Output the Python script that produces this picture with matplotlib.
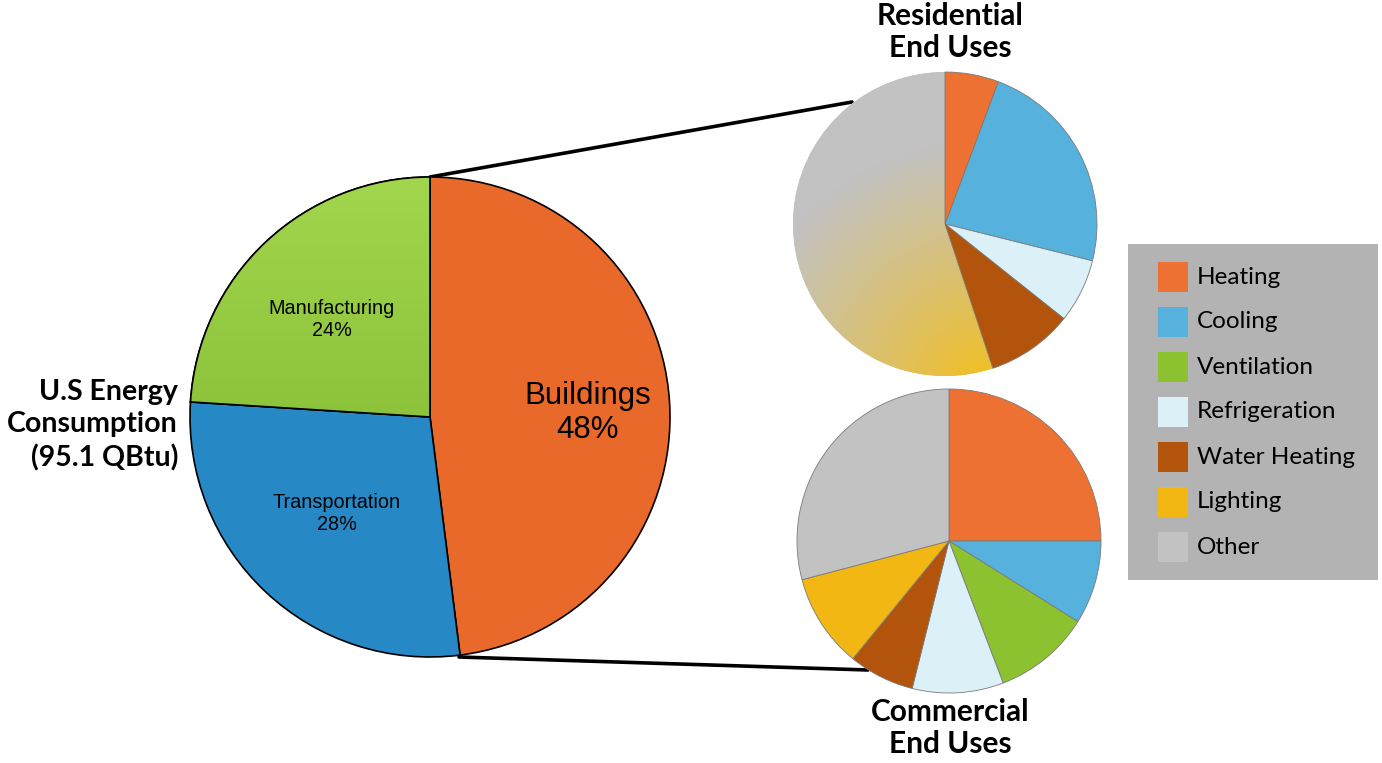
import matplotlib
matplotlib.use("Agg")
import matplotlib.pyplot as plt
import numpy as np
from matplotlib.patches import Rectangle, Wedge
from matplotlib.colors import to_rgb

# main pie: U.S. energy consumption by sector (%)
sectors = ["Buildings", "Transportation", "Manufacturing"]
sector_share = [48, 28, 24]
sector_colors = ["#e8692a", "#2689c5", "#8cc63e"]

# end uses (%), clockwise from 12 o'clock
res_uses = ["Heating", "Cooling", "Refrigeration", "Water Heating", "Lighting", "Other"]
res_share = [5.7, 23.2, 6.8, 9.2, 10.5, 44.6]

com_uses = ["Heating", "Cooling", "Ventilation", "Refrigeration", "Water Heating", "Lighting", "Other"]
com_share = [25.0, 8.9, 10.3, 9.7, 7.0, 10.0, 29.1]

use_colors = {
    "Heating": "#ec7132",
    "Cooling": "#56b1dd",
    "Ventilation": "#8cc130",
    "Refrigeration": "#dcf0f8",
    "Water Heating": "#b3540d",
    "Lighting": "#f2b713",
    "Other": "#c2c2c2",
}
legend_order = ["Heating", "Cooling", "Ventilation", "Refrigeration", "Water Heating", "Lighting", "Other"]

W, H = 1382, 763
fig = plt.figure(figsize=(W / 100, H / 100), dpi=100)
ax = fig.add_axes([0, 0, 1, 1])

def py(y):
    # pixel row -> data y (y axis points up)
    return H - y

def blend(c0, c1, t):
    c0, c1 = np.array(to_rgb(c0)), np.array(to_rgb(c1))
    return c0[None, None, :] * (1 - t[..., None]) + c1[None, None, :] * t[..., None]

main_c = (430, py(417))
main_r = 240
res_c = (945, py(224))
com_c = (949, py(541))
small_r = 152

# connector lines behind the small pies
ax.plot([430, 852], [py(177), py(102)], color="black", lw=2.6, zorder=1, solid_capstyle="round")
ax.plot([459, 868], [py(657), py(670)], color="black", lw=2.6, zorder=1, solid_capstyle="round")

wedges, _ = ax.pie(sector_share, colors=sector_colors, startangle=90, counterclock=False,
                   center=main_c, radius=main_r,
                   wedgeprops=dict(edgecolor="black", linewidth=1.2))
for w in wedges:
    w.set_zorder(2)

# soft vertical gradient on the manufacturing slice
gy = np.linspace(0, 1, 200)[:, None] * np.ones((1, 10))
green = blend("#a2d64c", "#76b029", gy)
im = ax.imshow(green, extent=(main_c[0] - main_r, main_c[0] + main_r,
                              main_c[1] - main_r, main_c[1] + main_r),
               origin="upper", zorder=2.1, interpolation="bilinear")
im.set_clip_path(wedges[2])
mw = wedges[2]
ax.add_patch(Wedge(mw.center, mw.r, mw.theta1, mw.theta2, facecolor="none",
                   edgecolor="black", lw=1.2, zorder=2.2))

rw, _ = ax.pie(res_share, colors=[use_colors[u] for u in res_uses], startangle=90, counterclock=False,
               center=res_c, radius=small_r,
               wedgeprops=dict(edgecolor="#7a7a7a", linewidth=0.6, zorder=3))
ax.pie(com_share, colors=[use_colors[u] for u in com_uses], startangle=90, counterclock=False,
       center=com_c, radius=small_r,
       wedgeprops=dict(edgecolor="#7a7a7a", linewidth=0.6, zorder=3))

# residential lighting/other fade from yellow (bottom) to grey (upper left)
n = 300
xs = np.linspace(res_c[0] - small_r, res_c[0] + small_r, n)
ys = np.linspace(res_c[1] + small_r, res_c[1] - small_r, n)
XX, YY = np.meshgrid(xs, ys)
d = np.hypot(XX - 985, YY - py(390))
t = np.clip(d / 250.0, 0, 1) ** 0.9
fade = blend("#f4bf1a", "#c2c2c2", t)
for k in (4, 5):
    rw[k].set_edgecolor("none")
    g = ax.imshow(fade, extent=(xs[0], xs[-1], ys[-1], ys[0]), origin="upper",
                  zorder=3.1, interpolation="bilinear")
    g.set_clip_path(rw[k])
# keep the thin outline between heating/other and water heating/lighting
for k in (0, 3):
    rw[k].set_zorder(3.2)

ax.set_xlim(0, W)
ax.set_ylim(0, H)
ax.set_aspect("equal")
ax.axis("off")

lab = dict(family=["Liberation Sans", "DejaVu Sans"], ha="center", va="center", zorder=5)
ax.text(588, py(413), "%s\n%d%%" % (sectors[0], sector_share[0]), fontsize=22.5,
        linespacing=1.2, **lab)
ax.text(337, py(513), "%s\n%d%%" % (sectors[1], sector_share[1]), fontsize=14.3,
        linespacing=1.2, **lab)
ax.text(332, py(319), "%s\n%d%%" % (sectors[2], sector_share[2]), fontsize=14.3,
        linespacing=1.2, **lab)

bold = dict(family=["Lato", "DejaVu Sans"], fontweight="bold", color="black", zorder=5)
ax.text(178, py(425), "U.S Energy\nConsumption\n(95.1 QBtu)", fontsize=20.5, ha="right",
        va="center", multialignment="right", linespacing=1.3, **bold)
ax.text(950, py(32), "Residential\nEnd Uses", fontsize=21.5, ha="center", va="center",
        linespacing=1.15, **bold)
ax.text(950, py(728), "Commercial\nEnd Uses", fontsize=21.5, ha="center", va="center",
        linespacing=1.15, **bold)

# legend box
ax.add_patch(Rectangle((1128, py(580)), 250, 336, facecolor="#b3b3b3", edgecolor="none", zorder=4))
for i, name in enumerate(legend_order):
    yc = 277 + 45 * i
    ax.add_patch(Rectangle((1158, py(yc + 15)), 30, 30, facecolor=use_colors[name],
                           edgecolor="none", zorder=5))
    ax.text(1197, py(yc), name, fontsize=17.5, family=["Lato", "DejaVu Sans"],
            ha="left", va="center", zorder=5)

fig.savefig("out.png", dpi=100)
